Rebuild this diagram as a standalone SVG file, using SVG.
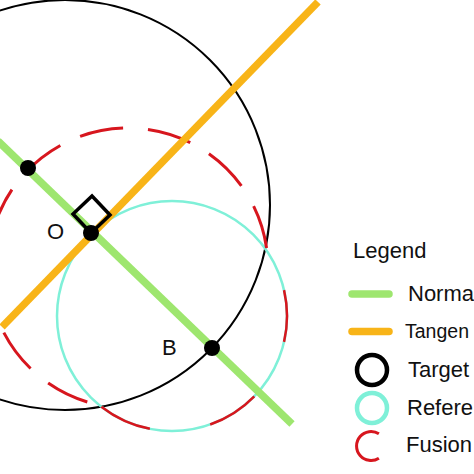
<svg xmlns="http://www.w3.org/2000/svg" width="474" height="474" viewBox="0 0 474 474">
<style>
  text { font-family: "Liberation Sans", Arial, sans-serif; font-size: 22px; fill: #111; }
  .target { fill: none; stroke: #000; stroke-width: 2; }
  .ref { fill: none; stroke: #7ff0d8; stroke-width: 2.5; }
  .fusion { fill: none; stroke: #d7161e; stroke-width: 3; stroke-linecap: butt; }
  .fusion-thin { fill: none; stroke: #d7161e; stroke-width: 2.5; }
  .normal { stroke: #9ee66f; stroke-width: 7.5; }
  .tangent { stroke: #f8b418; stroke-width: 7.5; }
  .dot { fill: #000; }
</style>
<rect width="474" height="474" fill="#fff"/>

<g id="target-circle"><circle class="target" cx="65" cy="205" r="205"/></g>
<g id="reference-circle"><circle class="ref" cx="172" cy="316" r="115"/></g>
<g id="fusion-curve">
  <path class="fusion" d="M253.62,206.19 A140,140 0 0 1 266.57,248.03 M208.90,153.74 A140,140 0 0 1 241.41,185.91 M147.97,129.43 A140,140 0 0 1 190.25,142.60 M80.12,136.44 A140,140 0 0 1 123.11,128.09 M25.61,172.52 A140,140 0 0 1 60.34,145.44 M-6.58,229.41 A140,140 0 0 1 11.93,189.71 M30.57,368.54 A140,140 0 0 1 3.82,332.64 M87.30,401.95 A140,140 0 0 1 48.13,382.98"/>
  <path class="fusion-thin" d="M284.05,290.13 A115,115 0 0 1 284.05,341.87 M254.30,396.32 A115,115 0 0 1 210.20,424.47 M149.86,428.85 A115,115 0 0 1 101.36,406.74"/>
</g>

<g id="connectors">
  <line id="normal-line" class="normal" x1="-2" y1="141" x2="292" y2="424"/>
  <line id="tangent-line" class="tangent" x1="318" y1="2" x2="2" y2="327"/>
</g>

<g id="right-angle"><path d="M91,233 L73,214 L92,196 L110,215 Z" fill="none" stroke="#000" stroke-width="3.5" stroke-linejoin="miter"/></g>

<g id="point-A"><circle class="dot" cx="28" cy="168" r="8"/></g>
<g id="point-O"><circle class="dot" cx="91" cy="233" r="8"/><text x="47" y="239">O</text></g>
<g id="point-B"><circle class="dot" cx="212" cy="348" r="8"/><text x="162" y="355">B</text></g>

<g id="legend">
  <text x="353" y="258">Legend</text>
  <line class="normal" x1="352" y1="294" x2="389" y2="294" stroke-linecap="round"/>
  <text x="408" y="301">Norma</text>
  <line class="tangent" x1="352" y1="331.5" x2="389" y2="331.5" stroke-linecap="round"/>
  <text x="405" y="338" style="font-size:19.5px">Tangen</text>
  <circle cx="372" cy="370" r="15" fill="none" stroke="#000" stroke-width="4.5"/>
  <text x="408" y="377">Target</text>
  <circle cx="372" cy="408" r="15" fill="none" stroke="#7ff0d8" stroke-width="4.5"/>
  <text x="407" y="415">Refere</text>
  <path d="M378.9,433.8 A14.5,14.5 0 1 0 378.9,458.2" fill="none" stroke="#d7161e" stroke-width="3"/>
  <text x="406" y="452">Fusion</text>
</g>
</svg>
